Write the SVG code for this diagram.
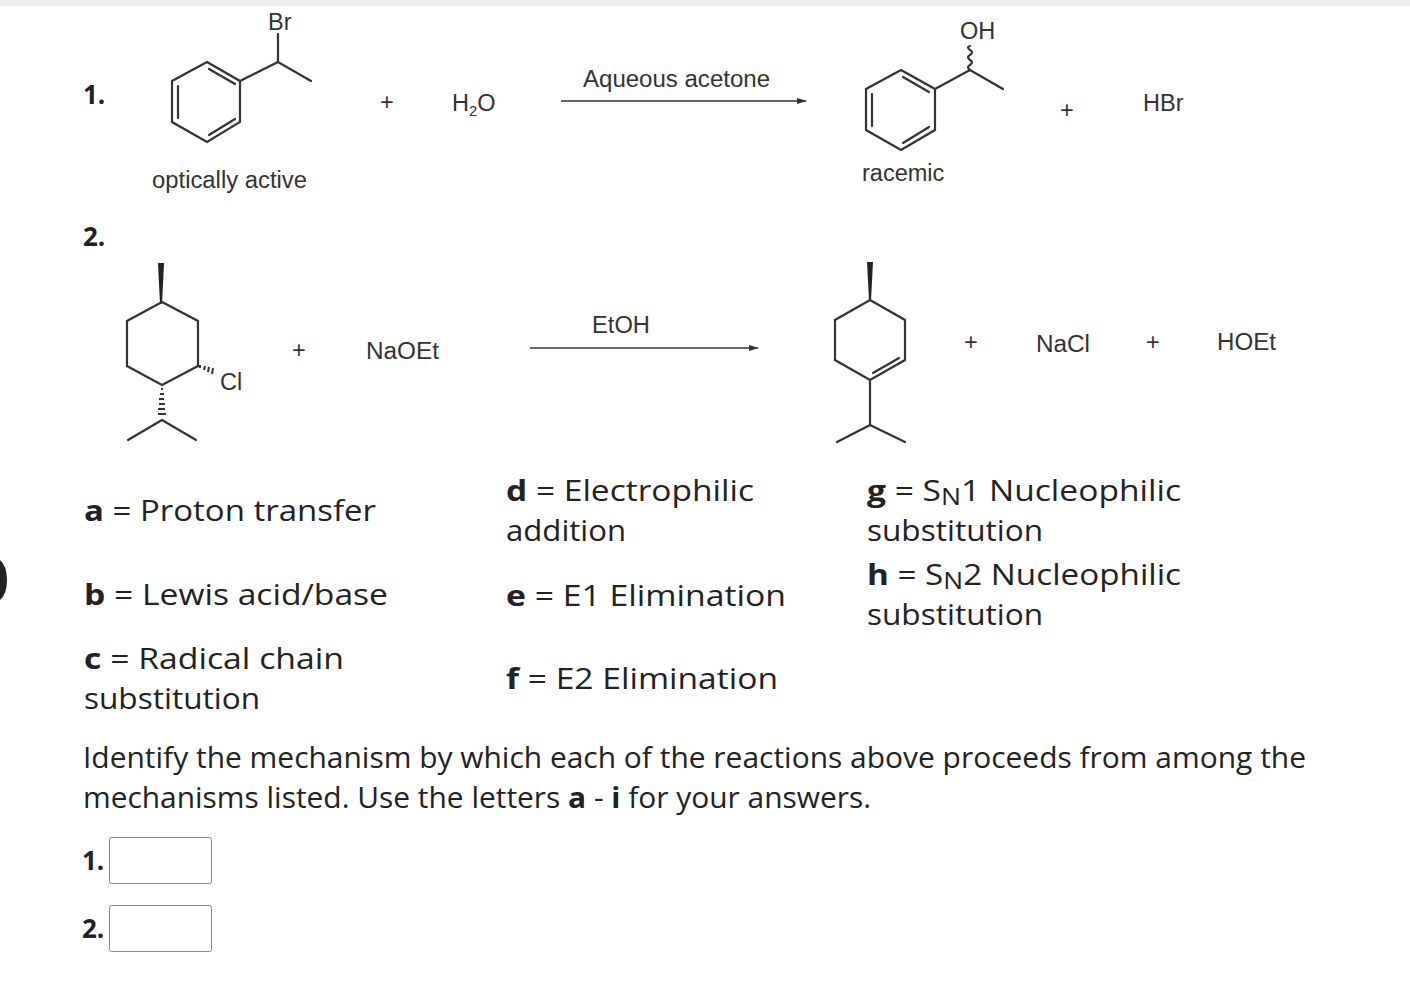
<svg xmlns="http://www.w3.org/2000/svg" width="1410" height="998" viewBox="0 0 1410 998">
<style>
.b{stroke:#333;stroke-width:2.2;fill:none;stroke-linecap:round}
.c{font-family:"Liberation Sans",Arial,sans-serif;font-size:23.5px;fill:#333}
.t{font-family:"Open Sans","Noto Sans",sans-serif;font-size:29px;fill:#222}
.n{font-family:"Open Sans","Noto Sans",sans-serif;font-size:26px;font-weight:bold;fill:#222}
</style>
<defs><marker id="ah" markerWidth="10" markerHeight="8" refX="9" refY="4" orient="auto" markerUnits="userSpaceOnUse"><path d="M0,1 L10,4 L0,7z" fill="#333"/></marker></defs>
<rect width="1410" height="998" fill="#fff"/>
<rect width="1410" height="6" fill="#eee"/>
<path d="M0,560 A12,22 0 0 1 0,600z" fill="#222"/>
<text class="n" x="83" y="104">1.</text>
<text class="n" x="83" y="246">2.</text>
<g id="reactant1">
<path class="b" d="M207,62 L240,81 L240,122 L207,142 L172,122 L172,81Z M178,86 L178,118 M209,69 L235,84 M235,119 L209,135 M240,81 L278,62 L311,81 M278,62 L278,34"/>
<text class="c" x="268" y="30" font-size="21">Br</text>
<text class="c" x="152" y="188" textLength="155" lengthAdjust="spacingAndGlyphs">optically active</text>
</g>
<text class="c" x="380" y="110" font-size="16">+</text>
<text class="c" x="452" y="111" font-size="22">H<tspan font-size="15" dy="5">2</tspan><tspan dy="-5">O</tspan></text>
<text class="c" x="583" y="87" textLength="187" lengthAdjust="spacingAndGlyphs">Aqueous acetone</text>
<g id="product1">
<path class="b" d="M901,70 L935,89 L935,130 L901,150 L866,130 L866,89Z M872,94 L872,126 M903,77 L929,92 M929,127 L903,143 M935,89 L970,70 L1003,89"/>
<path class="b" stroke-width="1.6" d="M970,70 q-4,-3 0,-5 q4,-3 0,-5 q-4,-3 0,-5 q4,-3 0,-5 q-4,-3 0,-4"/>
<text class="c" x="960" y="39" font-size="22">OH</text>
<text class="c" x="862" y="181">racemic</text>
</g>
<text class="c" x="1060" y="118" font-size="18">+</text>
<text class="c" x="1143" y="111" font-size="22">HBr</text>
<g id="reactant2">
<path d="M158,263 L164,263 L162,304 L160,304Z" fill="#222"/>
<path class="b" d="M162,302 L198,321 L198,366 L162,385 L127,366 L127,321Z M162,420 L128,440 M162,420 L196,440"/>
<path stroke="#333" stroke-width="2" d="M200,368 l0,-3 M204,370 l1,-4 M208,372 l1,-5 M212,374 l1,-6 M163,389 h-2 M164,394 h-4 M164,399 h-5 M165,404 h-6 M165,409 h-7 M166,414 h-8"/>
<text class="c" x="220" y="390" font-size="22">Cl</text>
</g>
<text class="c" x="292" y="358" font-size="17">+</text>
<text class="c" x="366" y="359" textLength="73" lengthAdjust="spacingAndGlyphs">NaOEt</text>
<text class="c" x="592" y="333" textLength="58" lengthAdjust="spacingAndGlyphs">EtOH</text>
<g id="product2">
<path d="M867,262 L873,262 L871,300 L869,300Z" fill="#222"/>
<path class="b" d="M870,300 L905,320 L905,360 L870,380 L835,360 L835,320Z M899,358 L873,373 M870,380 L870,425 L837,442 M870,425 L905,442"/>
</g>
<text class="c" x="964" y="350" font-size="17">+</text>
<text class="c" x="1036" y="352" textLength="54" lengthAdjust="spacingAndGlyphs">NaCl</text>
<text class="c" x="1146" y="350" font-size="17">+</text>
<text class="c" x="1217" y="350" textLength="59" lengthAdjust="spacingAndGlyphs">HOEt</text>
<g id="connectors">
<line stroke="#333" stroke-width="1.6" x1="561" y1="101" x2="806" y2="101" marker-end="url(#ah)"/>
<line stroke="#333" stroke-width="1.6" x1="530" y1="348" x2="758" y2="348" marker-end="url(#ah)"/>
</g>
<text class="t" x="84" y="521" textLength="292" lengthAdjust="spacingAndGlyphs"><tspan font-weight="bold">a</tspan> = Proton transfer</text>
<text class="t" x="84" y="605" textLength="304" lengthAdjust="spacingAndGlyphs"><tspan font-weight="bold">b</tspan> = Lewis acid/base</text>
<text class="t" x="84" y="669" textLength="260" lengthAdjust="spacingAndGlyphs"><tspan font-weight="bold">c</tspan> = Radical chain</text>
<text class="t" x="84" y="709" textLength="176" lengthAdjust="spacingAndGlyphs">substitution</text>
<text class="t" x="506" y="501" textLength="248" lengthAdjust="spacingAndGlyphs"><tspan font-weight="bold">d</tspan> = Electrophilic</text>
<text class="t" x="506" y="541" textLength="120" lengthAdjust="spacingAndGlyphs">addition</text>
<text class="t" x="506" y="606" textLength="280" lengthAdjust="spacingAndGlyphs"><tspan font-weight="bold">e</tspan> = E1 Elimination</text>
<text class="t" x="506" y="689" textLength="272" lengthAdjust="spacingAndGlyphs"><tspan font-weight="bold">f</tspan> = E2 Elimination</text>
<text class="t" x="867" y="501" textLength="314" lengthAdjust="spacingAndGlyphs"><tspan font-weight="bold">g</tspan> = S<tspan font-size="23" dy="4">N</tspan><tspan dy="-4">1 Nucleophilic</tspan></text>
<text class="t" x="867" y="541" textLength="176" lengthAdjust="spacingAndGlyphs">substitution</text>
<text class="t" x="867" y="585" textLength="314" lengthAdjust="spacingAndGlyphs"><tspan font-weight="bold">h</tspan> = S<tspan font-size="23" dy="4">N</tspan><tspan dy="-4">2 Nucleophilic</tspan></text>
<text class="t" x="867" y="625" textLength="176" lengthAdjust="spacingAndGlyphs">substitution</text>
<text class="t" x="83" y="768" textLength="1223" lengthAdjust="spacingAndGlyphs">Identify the mechanism by which each of the reactions above proceeds from among the</text>
<text class="t" x="83" y="808" textLength="788" lengthAdjust="spacingAndGlyphs">mechanisms listed. Use the letters <tspan font-weight="bold">a</tspan> - <tspan font-weight="bold">i</tspan> for your answers.</text>
<text class="n" x="82" y="870">1.</text>
<rect x="109.5" y="837.5" width="102" height="46" rx="2" fill="#fff" stroke="#888"/>
<text class="n" x="82" y="938">2.</text>
<rect x="109.5" y="905.5" width="102" height="46" rx="2" fill="#fff" stroke="#888"/>
</svg>
